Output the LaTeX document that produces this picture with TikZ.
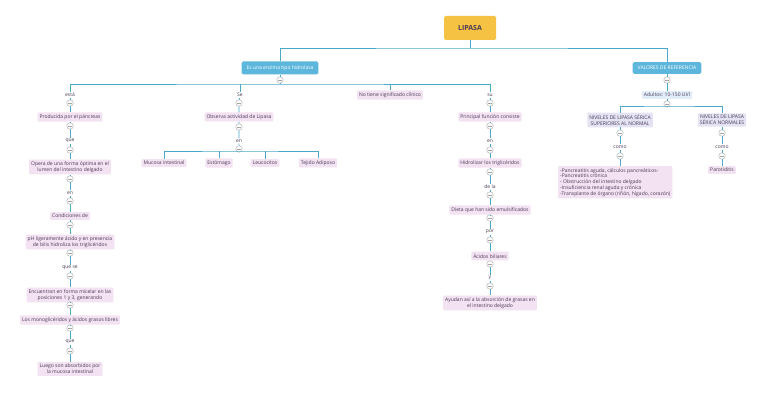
\documentclass[tikz,border=0pt]{standalone}
\usepackage{fontspec}
\setmainfont{Open Sans}
\definecolor{lnk}{HTML}{4AA8C8}
\definecolor{pkc}{HTML}{F3E2F2}
\definecolor{blc}{HTML}{5DB7DC}
\definecolor{lbc}{HTML}{E1EDF8}
\definecolor{lvc}{HTML}{E4E3F4}
\definecolor{orc}{HTML}{F6C244}
\definecolor{tx}{HTML}{4A3A55}
\tikzset{
  f/.style={font=\fontsize{5pt}{5.8pt}\selectfont},
  pk/.style={f,fill=pkc,text=tx,rounded corners=1pt,inner sep=2pt,align=center},
  bx/.style={f,fill=blc,text=white,rounded corners=1.5pt,inner xsep=5pt,inner ysep=4pt},
  lb/.style={f,text=tx,inner sep=1pt},
  tg/.style={circle,draw=gray!70,fill=white,minimum size=6.5pt,inner sep=0pt,
    path picture={\draw[gray!70,line width=0.4pt] ([xshift=-2pt]path picture bounding box.center) -- ([xshift=2pt]path picture bounding box.center);}},
  ln/.style={draw=lnk,line width=0.9pt}
}
\begin{document}
\begin{tikzpicture}[x=1pt,y=-1pt]
\useasboundingbox[fill=white] (0,0) rectangle (768,414);
% root
\node[fill=orc,text=tx,rounded corners=1.5pt,minimum width=52pt,minimum height=24pt,font=\fontsize{7pt}{8pt}\selectfont\bfseries] (root) at (470,28) {LIPASA};
\node[bx] (enz) at (280,68) {Es una enzima tipo hidrolasa};
\node[bx] (val) at (667,68) {VALORES DE REFERENCIA};
\coordinate (b0) at (470,48);
\draw[ln] (root) -- (b0) (enz.north) |- (b0) -| (val.north);
\node[tg] (t0) at (280,80) {};
\node[tg] (t1) at (667,80) {};
\draw[ln] (enz) -- (t0) (val) -- (t1);
% branches of enz
\coordinate (b1) at (280,84);
\node[lb] (l1) at (70,95) {está};
\node[lb] (l2) at (240,95) {Se};
\node[pk] (nt) at (390,95) {No tiene significado clínico};
\node[lb] (l3) at (490,95) {su};
\draw[ln] (t0) -- (b1) (l1.north) |- (b1) -| (l3.north) (l2.north) -- (l2.north|-b1) (nt.north) -- (nt.north|-b1);
% left column
\node[tg] (a1) at (70,103) {};
\node[pk] (a2) at (70,117) {Producida por el páncreas};
\node[tg] (a3) at (70,126) {};
\node[lb] (a4) at (70,141) {que};
\node[tg] (a5) at (70,150) {};
\node[pk] (a6) at (70,167) {Opera de una forma óptima en el\\lumen del intestino delgado};
\node[tg] (a7) at (70,179) {};
\node[lb] (a8) at (70,193) {en};
\node[tg] (a9) at (70,201) {};
\node[pk] (a10) at (70,216) {Condiciones de};
\node[tg] (a11) at (70,225) {};
\node[pk] (a12) at (70,242) {pH ligeramente ácido y en presencia\\de bilis hidroliza los triglicéridos};
\node[tg] (a13) at (70,253) {};
\node[lb] (a14) at (70,268) {que se};
\node[tg] (a15) at (70,276) {};
\node[pk] (a16) at (70,295) {Encuentran en forma micelar en las\\posiciones 1 y 3, generando};
\node[tg] (a17) at (70,305) {};
\node[pk] (a18) at (70,320) {Los monoglicéridos y ácidos grasos libres};
\node[tg] (a19) at (70,328) {};
\node[lb] (a20) at (70,342) {que};
\node[tg] (a21) at (70,351) {};
\node[pk] (a22) at (70,369) {Luego son absorbidos por\\la mucosa intestinal};
\draw[ln] (l1) -- (a1) -- (a2) -- (a3) -- (a4) -- (a5) -- (a6) -- (a7) -- (a8) -- (a9) -- (a10) -- (a11) -- (a12) -- (a13) -- (a14) -- (a15) -- (a16) -- (a17) -- (a18) -- (a19) -- (a20) -- (a21) -- (a22);
% Se column
\node[tg] (s1) at (239,103) {};
\node[pk] (s2) at (239,117) {Observa actividad de Lipasa};
\node[tg] (s3) at (239,127) {};
\node[lb] (s4) at (239,141) {en};
\node[tg] (s5) at (239,149) {};
\coordinate (b2) at (239,151);
\node[pk] (m1) at (164,163) {Mucosa intestinal};
\node[pk] (m2) at (219,163) {Estómago};
\node[pk] (m3) at (265,163) {Leucocitos};
\node[pk] (m4) at (318,163) {Tejido Adiposo};
\draw[ln] (l2) -- (s1) -- (s2) -- (s3) -- (s4) -- (s5);
\draw[ln] (m1.north) |- (b2) -| (m4.north) (m2.north) -- (m2.north|-b2) (m3.north) -- (m3.north|-b2);
% su column
\node[tg] (u1) at (490,103) {};
\node[pk] (u2) at (490,117) {Principal función consiste};
\node[tg] (u3) at (490,126) {};
\node[lb] (u4) at (490,141) {en};
\node[tg] (u5) at (490,150) {};
\node[pk] (u6) at (490,163) {Hidrolizar los triglicéridos};
\node[tg] (u7) at (490,172) {};
\node[lb] (u8) at (490,187) {de la};
\node[tg] (u9) at (490,195) {};
\node[pk] (u10) at (490,210) {Dieta que han sido emulsificados};
\node[tg] (u11) at (490,218) {};
\node[lb] (u12) at (490,232) {por};
\node[tg] (u13) at (490,240) {};
\node[pk] (u14) at (490,256) {Ácidos biliares};
\node[tg] (u15) at (490,264) {};
\node[lb] (u16) at (490,278) {y};
\node[tg] (u17) at (490,286) {};
\node[pk] (u18) at (490,303) {Ayudan así a la absorción de grasas en\\el intestino delgado};
\draw[ln] (l3) -- (u1) -- (u2) -- (u3) -- (u4) -- (u5) -- (u6) -- (u7) -- (u8) -- (u9) -- (u10) -- (u11) -- (u12) -- (u13) -- (u14) -- (u15) -- (u16) -- (u17) -- (u18);
% valores
\node[pk,fill=lbc] (v1) at (667,95) {Adultos: 10-150 UI/l};
\node[tg] (v2) at (667,104) {};
\coordinate (b3) at (667,106);
\node[pk,fill=lvc] (v3) at (620,120) {NIVELES DE LIPASA SÉRICA\\SUPERIORES AL NORMAL};
\node[pk,fill=lvc] (v4) at (722,120) {NIVELES DE LIPASA\\SÉRICA NORMALES};
\node[tg] (v5) at (620,133) {};
\node[tg] (v6) at (722,133) {};
\node[lb] (v7) at (620,147) {como};
\node[lb] (v8) at (722,147) {como};
\node[tg] (v9) at (620,156) {};
\node[tg] (v10) at (722,156) {};
\node[pk,align=left,anchor=north west] (v11) at (558,166) {-Pancreatitis aguda, cálculos pancreáticos-\\-Pancreatitis crónica\\- Obstrucción del intestino delgado\\-Insuficiencia renal aguda y crónica\\-Transplante de órgano (riñón, hígado, corazón)};
\node[pk] (v12) at (722,170) {Parotiditis};
\draw[ln] (t1) -- (v1) -- (v2) -- (b3) (v3.north) |- (b3) -| (v4.north);
\draw[ln] (v3) -- (v5) -- (v7) -- (v9) -- (v9|-v11.north);
\draw[ln] (v4) -- (v6) -- (v8) -- (v10) -- (v12);
\end{tikzpicture}
\end{document}
